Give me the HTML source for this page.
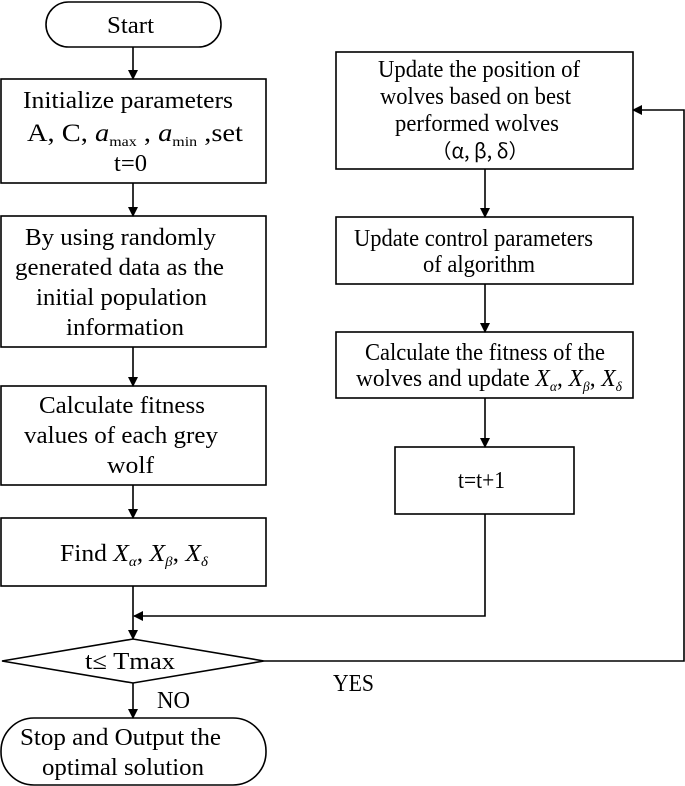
<!DOCTYPE html>
<html><head><meta charset="utf-8"><style>
html,body{margin:0;padding:0;background:#fff;}
svg{display:block}
text{font-family:"Liberation Serif",serif;font-size:24px;fill:#000}
.i{font-style:italic}
.s{font-size:14px}
</style></head><body>
<svg width="685" height="786" viewBox="0 0 685 786">
<defs><marker id="a" markerWidth="10" markerHeight="10" refX="9" refY="5" orient="auto" markerUnits="userSpaceOnUse"><path d="M0,0 L10,5 L0,10 z" fill="#000"/></marker></defs>
<g fill="none" stroke="#000" stroke-width="1.6">
<rect x="46" y="2" width="175" height="45" rx="22.5"/>
<rect x="1" y="79" width="265" height="104"/>
<rect x="1" y="216" width="265" height="131"/>
<rect x="1" y="386" width="265" height="99"/>
<rect x="1" y="518" width="265" height="68"/>
<path d="M2,661 L133,639 L264,661 L133,683 Z"/>
<rect x="1" y="718" width="265" height="67" rx="33"/>
<rect x="336" y="52" width="297" height="117"/>
<rect x="336" y="217" width="297" height="67"/>
<rect x="336" y="332" width="297" height="66"/>
<rect x="395" y="447" width="179" height="67"/>
<line x1="133" y1="47" x2="133" y2="79" marker-end="url(#a)"/>
<line x1="133" y1="183" x2="133" y2="216" marker-end="url(#a)"/>
<line x1="133" y1="347" x2="133" y2="386" marker-end="url(#a)"/>
<line x1="133" y1="485" x2="133" y2="518" marker-end="url(#a)"/>
<line x1="133" y1="586" x2="133" y2="639" marker-end="url(#a)"/>
<line x1="133" y1="683" x2="133" y2="718" marker-end="url(#a)"/>
<line x1="485" y1="169" x2="485" y2="217" marker-end="url(#a)"/>
<line x1="485" y1="284" x2="485" y2="332" marker-end="url(#a)"/>
<line x1="485" y1="398" x2="485" y2="447" marker-end="url(#a)"/>
<polyline points="485,514 485,616 134,616" marker-end="url(#a)"/>
<polyline points="264,661 684,661 684,110 633,110" marker-end="url(#a)"/>
</g>
<g>
<text x="107" y="33" textLength="47" lengthAdjust="spacingAndGlyphs">Start</text>
<text x="23" y="108" textLength="210" lengthAdjust="spacingAndGlyphs">Initialize  parameters</text>
<text x="27" y="141" style="font-size:25px" textLength="216" lengthAdjust="spacingAndGlyphs">A, C, <tspan class="i">a</tspan><tspan class="s" dy="5">max</tspan><tspan dy="-5"> ,   </tspan><tspan class="i">a</tspan><tspan class="s" dy="5">min</tspan><tspan dy="-5"> ,set</tspan></text>
<text x="114" y="171" textLength="33" lengthAdjust="spacingAndGlyphs">t=0</text>
<text x="25" y="245" textLength="191" lengthAdjust="spacingAndGlyphs">By using randomly</text>
<text x="15" y="275" textLength="209" lengthAdjust="spacingAndGlyphs">generated data as the</text>
<text x="36" y="305" textLength="171" lengthAdjust="spacingAndGlyphs">initial population</text>
<text x="66" y="335" textLength="118" lengthAdjust="spacingAndGlyphs">information</text>
<text x="39" y="413" textLength="166" lengthAdjust="spacingAndGlyphs">Calculate fitness</text>
<text x="24" y="443" textLength="194" lengthAdjust="spacingAndGlyphs">values of each grey</text>
<text x="107" y="473" textLength="47" lengthAdjust="spacingAndGlyphs">wolf</text>
<text x="60" y="561" style="font-size:24px" textLength="148" lengthAdjust="spacingAndGlyphs">Find  <tspan class="i">X</tspan><tspan class="s i" dy="5">α</tspan><tspan dy="-5">, </tspan><tspan class="i">X</tspan><tspan class="s i" dy="5">β</tspan><tspan dy="-5">, </tspan><tspan class="i">X</tspan><tspan class="s i" dy="5">δ</tspan></text>
<text x="85" y="669" textLength="90" lengthAdjust="spacingAndGlyphs">t≤ Tmax</text>
<text x="20" y="745" textLength="201" lengthAdjust="spacingAndGlyphs">Stop and Output the</text>
<text x="42" y="775" textLength="162" lengthAdjust="spacingAndGlyphs">optimal solution</text>
<text x="378" y="77" textLength="202" lengthAdjust="spacingAndGlyphs">Update the position of</text>
<text x="380" y="104" textLength="191" lengthAdjust="spacingAndGlyphs">wolves based on best</text>
<text x="395" y="131" textLength="164" lengthAdjust="spacingAndGlyphs">performed wolves</text>
<text x="480" y="158" text-anchor="middle" style="font-family:'Noto Sans CJK SC',sans-serif;font-size:20px">（α, β, δ）</text>
<text x="354" y="246" textLength="239" lengthAdjust="spacingAndGlyphs">Update control parameters</text>
<text x="423" y="272" textLength="112" lengthAdjust="spacingAndGlyphs">of algorithm</text>
<text x="365" y="360" textLength="240" lengthAdjust="spacingAndGlyphs">Calculate the fitness of the</text>
<text x="356" y="386" style="font-size:24px" textLength="266" lengthAdjust="spacingAndGlyphs">wolves and update  <tspan class="i">X</tspan><tspan class="s i" dy="5">α</tspan><tspan dy="-5">, </tspan><tspan class="i">X</tspan><tspan class="s i" dy="5">β</tspan><tspan dy="-5">, </tspan><tspan class="i">X</tspan><tspan class="s i" dy="5">δ</tspan></text>
<text x="458" y="488" textLength="47" lengthAdjust="spacingAndGlyphs">t=t+1</text>
<text x="333" y="691" textLength="41" lengthAdjust="spacingAndGlyphs">YES</text>
<text x="157" y="708" textLength="33" lengthAdjust="spacingAndGlyphs">NO</text>
</g>
</svg>
</body></html>
